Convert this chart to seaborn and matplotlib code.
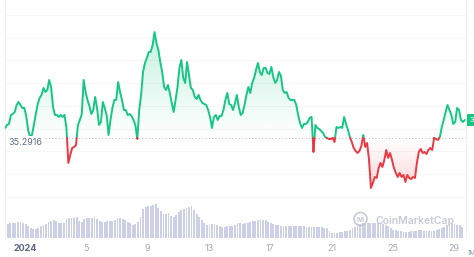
import numpy as np
import pandas as pd
import matplotlib
matplotlib.use("Agg")
import matplotlib.pyplot as plt
import seaborn as sns
from matplotlib.path import Path
from matplotlib.colors import to_rgb
from matplotlib.patches import Ellipse

# ---------------- data ----------------
BASE = 35.2916
START = "2023-12-30 17:00"
PRICE_FREQ = "3h"
VOLUME_FREQ = "4h"

prices = [
    35.512, 35.578, 35.600, 35.798, 35.820, 35.864, 36.018, 36.084, 36.018, 35.952,
    35.952, 35.776, 35.468, 35.314, 35.358, 35.578, 35.820, 36.040, 36.172, 36.238,
    36.392, 36.304, 36.348, 36.568, 36.414, 35.974, 35.798, 35.798, 35.754, 35.798,
    35.754, 35.798, 35.512, 34.742, 34.918, 35.072, 35.094, 35.138, 35.578, 35.688,
    35.820, 36.568, 36.304, 36.128, 35.996, 35.820, 35.908, 36.194, 35.952, 35.578,
    35.644, 36.084, 35.952, 35.798, 35.358, 35.688, 35.952, 36.128, 36.128, 36.524,
    36.304, 36.128, 35.908, 35.908, 35.798, 35.820, 35.776, 35.688, 35.578, 35.270,
    35.908, 36.238, 36.744, 36.942, 37.052, 37.184, 37.184, 37.338, 37.624, 37.382,
    37.228, 36.964, 36.744, 36.414, 36.348, 36.458, 36.282, 36.062, 35.864, 36.128,
    36.414, 36.832, 37.008, 36.612, 36.502, 36.964, 36.678, 36.392, 36.348, 36.194,
    36.150, 36.238, 36.128, 36.062, 36.040, 36.018, 35.908, 35.754, 35.512, 35.754,
    35.798, 35.688, 35.776, 35.776, 35.908, 36.128, 36.282, 36.040, 36.018, 35.908,
    36.062, 36.238, 35.974, 35.798, 35.842, 36.018, 36.238, 36.414, 36.282, 36.502,
    36.612, 36.788, 36.942, 36.744, 36.678, 36.832, 36.832, 36.722, 36.700, 36.854,
    36.634, 36.502, 36.568, 36.744, 36.656, 36.348, 36.282, 36.304, 36.172, 36.128,
    36.128, 36.128, 36.018, 35.798, 35.622, 35.512, 35.600, 35.600, 35.644, 35.732,
    35.754, 34.984, 35.578, 35.512, 35.490, 35.446, 35.402, 35.314, 35.292, 35.270,
    35.270, 35.292, 35.204, 35.534, 35.512, 35.534, 35.512, 35.754, 35.600, 35.468,
    35.314, 35.204, 35.072, 35.006, 34.962, 35.006, 35.116, 35.358, 35.094, 35.182,
    34.808, 34.192, 34.302, 34.434, 34.412, 34.632, 34.742, 34.654, 34.808, 35.028,
    34.852, 34.962, 34.808, 34.632, 34.522, 34.434, 34.522, 34.434, 34.478, 34.324,
    34.478, 34.412, 34.390, 34.434, 34.412, 34.742, 34.984, 35.050, 34.962, 34.984,
    34.940, 35.028, 35.072, 35.028, 35.292, 35.270, 35.248, 35.314, 35.534, 35.688,
    35.864, 36.018, 35.908, 35.798, 35.600, 35.644, 35.952, 35.908, 35.688, 35.644,
    35.688,
]

volumes_musd = [
    130, 140, 150, 150, 150, 160, 160, 150, 140, 120,
    100, 90, 90, 100, 120, 130, 140, 160, 170, 180,
    170, 150, 150, 150, 190, 200, 200, 200, 210, 170,
    160, 190, 200, 200, 200, 210, 190, 170, 160, 160,
    170, 170, 170, 180, 200, 200, 190, 180, 160, 150,
    130, 140, 160, 210, 290, 310, 320, 320, 330, 340,
    300, 270, 240, 240, 250, 220, 210, 230, 260, 280,
    290, 300, 310, 320, 280, 240, 210, 180, 150, 130,
    130, 140, 140, 130, 120, 110, 110, 120, 120, 120,
    130, 150, 150, 140, 150, 150, 160, 170, 170, 180,
    190, 180, 180, 160, 150, 140, 130, 130, 120, 120,
    120, 120, 120, 120, 120, 120, 120, 120, 110, 110,
    110, 110, 110, 110, 110, 100, 100, 70, 50, 50,
    50, 60, 60, 70, 70, 80, 100, 110, 130, 140,
    150, 150, 150, 150, 150, 150, 150, 150, 140, 130,
    120, 100, 80, 80, 70, 70, 60, 60, 60, 70,
    70, 70, 80, 80, 70, 70, 70, 70, 70, 80,
    90, 100, 110, 130, 140, 140, 140, 130, 130, 110,
]

tick_dates = ["2024-01-01", "2024-01-05", "2024-01-09", "2024-01-13",
              "2024-01-17", "2024-01-21", "2024-01-25", "2024-01-29"]
tick_labels = ["2024", "5", "9", "13", "17", "21", "25", "29"]

# ---------------- styling ----------------
GREEN = "#16c784"
RED = "#ea3943"
VOL_COLOR = "#cbd0e6"

sns.set_theme(style="white")
plt.rcParams["font.family"] = ["Inter", "DejaVu Sans"]

REF = pd.Timestamp("2024-01-01")
p = np.array(prices)
times = pd.date_range(START, periods=len(p), freq=PRICE_FREQ)
t = ((times - REF) / pd.Timedelta(days=1)).to_numpy()
vtimes = pd.date_range(START, periods=len(volumes_musd), freq=VOLUME_FREQ)
vt = ((vtimes - REF) / pd.Timedelta(days=1)).to_numpy()
ticks = ((pd.to_datetime(tick_dates) - REF) / pd.Timedelta(days=1)).to_numpy()

W, H = 474, 257
fig = plt.figure(figsize=(W / 100, H / 100), dpi=100)
rect = [5 / W, 19 / H, 461 / W, 238 / H]
ax_v = fig.add_axes(rect, zorder=0)
ax = fig.add_axes(rect, zorder=1)
ax.patch.set_alpha(0)

px = 0.022  # price units per pixel of plot height
ylim = (BASE - 100 * px, BASE + 138 * px)
xlim = (t[0] - 0.01, t[-1] + 0.08)

# volume bars
step_days = 4 / 24
ax_v.bar(vt, volumes_musd, width=step_days * 0.72, color=VOL_COLOR, linewidth=0)
ax_v.set_xlim(xlim)
ax_v.set_ylim(0, 2380)
ax_v.axis("off")

# gradient fills
def gradient_fill(coll, color, y0, y1, a0, a1):
    paths = coll.get_paths()
    coll.remove()
    if not paths:
        return
    path = Path.make_compound_path(*paths)
    n = 256
    img = np.zeros((n, 1, 4))
    img[..., :3] = to_rgb(color)
    img[:, 0, 3] = np.linspace(a0, a1, n)
    im = ax.imshow(img, extent=[t[0], t[-1], y0, y1], origin="lower",
                   aspect="auto", interpolation="bilinear", zorder=1)
    im.set_clip_path(path, transform=ax.transData)

cg = ax.fill_between(t, p, BASE, where=p >= BASE, interpolate=True, lw=0)
gradient_fill(cg, GREEN, BASE, p.max(), 0.0, 0.24)
cr = ax.fill_between(t, p, BASE, where=p <= BASE, interpolate=True, lw=0)
gradient_fill(cr, RED, p.min(), BASE, 0.2, 0.0)

# split the line into up / down segments at the baseline
rows = []
seg = 0
above = p[0] >= BASE
rows.append((t[0], p[0], seg, above))
for i in range(1, len(p)):
    a = p[i] >= BASE
    if a != above:
        frac = (BASE - p[i - 1]) / (p[i] - p[i - 1])
        tc = t[i - 1] + frac * (t[i] - t[i - 1])
        rows.append((tc, BASE, seg, above))
        seg += 1
        above = a
        rows.append((tc, BASE, seg, above))
    rows.append((t[i], p[i], seg, above))
df = pd.DataFrame(rows, columns=["t", "price", "seg", "up"])
df["dir"] = np.where(df["up"], "up", "down")

sns.lineplot(data=df, x="t", y="price", units="seg", estimator=None, sort=False,
             hue="dir", palette={"up": GREEN, "down": RED}, legend=False,
             linewidth=1.4, ax=ax, zorder=3)

# baseline
ax.axhline(BASE, color="#b9bfcc", lw=0.8, ls=(0, (1, 2)), zorder=2)
ax.annotate(f"{BASE:.4f}", xy=(0, BASE), xycoords=("axes fraction", "data"),
            xytext=(2.2, -3.0), textcoords="offset points", ha="left", va="center",
            fontsize=6.5, color="#616e85", zorder=6,
            bbox=dict(boxstyle="square,pad=0.2", fc="white", ec="none"))

# last price tag on the right
ax.annotate(f"{p[-1]:.2f}", xy=(1, p[-1]), xycoords=("axes fraction", "data"),
            xytext=(2.6, 0), textcoords="offset points", ha="left", va="center",
            fontsize=5.5, color="white", annotation_clip=False, zorder=6,
            bbox=dict(boxstyle="square,pad=0.35", fc=GREEN, ec="none"))

ax.set_xlim(xlim)
ax.set_ylim(ylim)
ax.set_xlabel("")
ax.set_ylabel("")
ax.set_yticks(np.arange(34.0, 38.01, 0.5))
ax.tick_params(axis="y", length=0, labelleft=False)
ax.grid(axis="y", color="#f5f6f8", lw=0.8, zorder=0)
ax.grid(axis="x", visible=False)
ax.set_xticks(ticks)
ax.set_xticklabels(tick_labels)
ax.tick_params(axis="x", length=0, pad=4.5, labelsize=6.5, labelcolor="#a1a9ba")
first = ax.get_xticklabels()[0]
first.set_color("#58667e")
first.set_fontweight("bold")
for s in ["top", "bottom"]:
    ax.spines[s].set_visible(False)
for s in ["left", "right"]:
    ax.spines[s].set_color("#eff1f4")
    ax.spines[s].set_linewidth(0.8)

# watermark
wm = "#bcc2cf"
fig.add_artist(Ellipse((360.5 / W, 1 - 219 / H), 13 / W, 13 / H, fill=False,
                       ec=wm, lw=1.2, alpha=0.85, transform=fig.transFigure, zorder=5))
fig.text(360.5 / W, 1 - 219.5 / H, "M", fontsize=5.5, color=wm, weight="bold",
         ha="center", va="center", alpha=0.85, zorder=5)
fig.text(375 / W, 1 - 221.5 / H, "CoinMarketCap", fontsize=7.5, color=wm,
         weight="semibold", ha="left", va="center", alpha=0.85, zorder=5)
fig.text(468 / W, 1 - 253 / H, "1M", fontsize=4.5, color="#8a93a6",
         ha="left", va="center")

fig.savefig("out.png", dpi=100)
